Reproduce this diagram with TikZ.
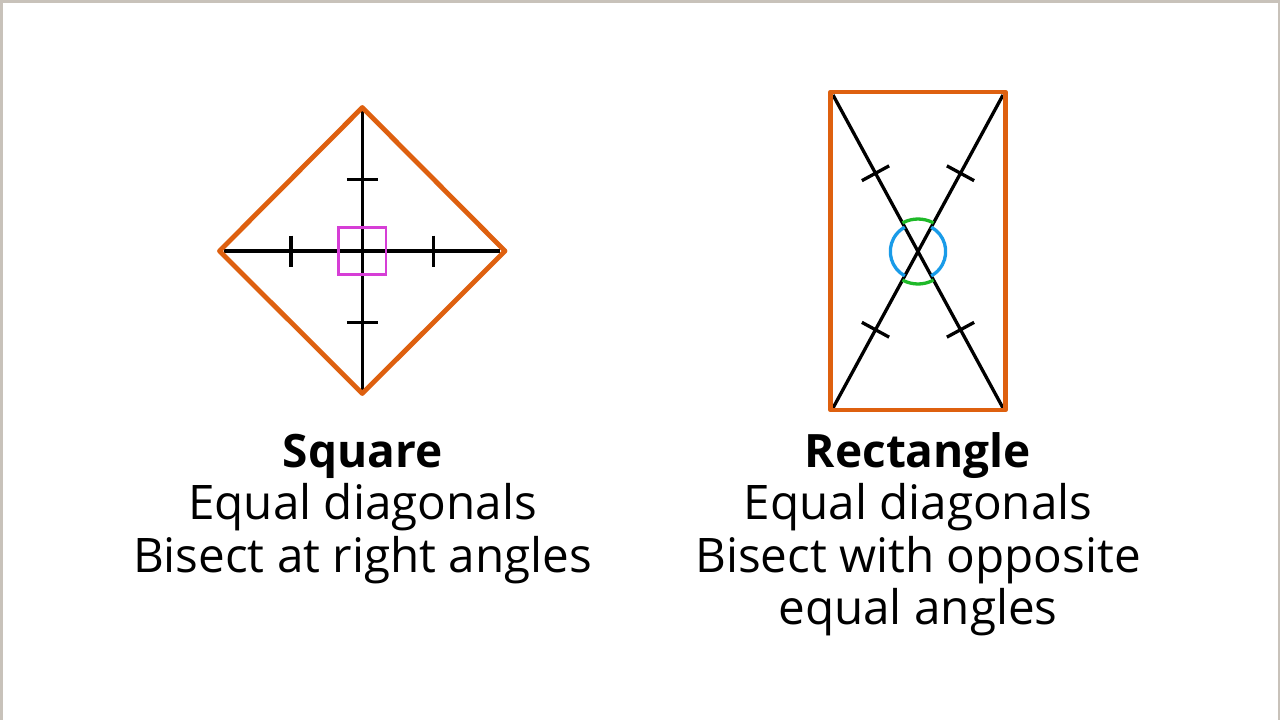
\documentclass[tikz,border=0pt]{standalone}
\usepackage{fontspec}
\setmainfont{Open Sans}
\usetikzlibrary{calc}
\definecolor{shapeorange}{RGB}{222,96,15}
\definecolor{rightmag}{RGB}{214,62,214}
\definecolor{anglegreen}{RGB}{30,185,40}
\definecolor{angleblue}{RGB}{25,155,232}
\definecolor{framegray}{RGB}{200,194,186}
\tikzset{
  outline/.style={draw=shapeorange, line width=4.8pt, line join=round},
  diag/.style={draw=black, line width=3.3pt},
  tickmark/.style={draw=black, line width=3.3pt},
  rightbox/.style={draw=rightmag, line width=2.8pt},
  greenarc/.style={draw=anglegreen, line width=3.3pt},
  bluearc/.style={draw=angleblue, line width=3.3pt},
  titletext/.style={anchor=base, inner sep=0pt, font=\fontsize{46}{52}\selectfont\bfseries},
  bodytext/.style={anchor=base, inner sep=0pt, font=\fontsize{47.6}{52}\selectfont},
}
\begin{document}
\begin{tikzpicture}[x=1pt,y=-1pt]
\useasboundingbox (0,0) rectangle (1280,720);
\fill[white] (0,0) rectangle (1280,720);
\draw[framegray, line width=2.5pt] (1.25,720) -- (1.25,1.25) -- (1278.75,1.25) -- (1278.75,720);

% ---------- Square ----------
\coordinate (sqT) at (362.3,107.5);
\coordinate (sqB) at (362.3,393.5);
\coordinate (sqL) at (219.5,251);
\coordinate (sqR) at (505,251);
\coordinate (sqO) at (362.3,251);
\coordinate (sqTi) at (362.3,109);
\coordinate (sqBi) at (362.3,391);
\coordinate (sqLi) at (224,251);
\coordinate (sqRi) at (500,251);

\draw[diag] (sqTi) -- (sqBi);
\draw[diag] (sqLi) -- (sqRi);
\draw[outline] (sqT) -- (sqR) -- (sqB) -- (sqL) -- cycle;

\coordinate (sqt1) at ($(sqT)!0.5!(sqO)$);
\coordinate (sqt2) at ($(sqB)!0.5!(sqO)$);
\coordinate (sqt3) at ($(sqL)!0.5!(sqO)$);
\coordinate (sqt4) at ($(sqR)!0.5!(sqO)$);
\draw[tickmark] ($(sqt1)+(-15.5,0)$) -- ($(sqt1)+(15.5,0)$);
\draw[tickmark] ($(sqt2)+(-15.5,0)$) -- ($(sqt2)+(15.5,0)$);
\draw[tickmark] ($(sqt3)+(0,-15.5)$) -- ($(sqt3)+(0,15.5)$);
\draw[tickmark] ($(sqt4)+(0,-15.5)$) -- ($(sqt4)+(0,15.5)$);

\draw[rightbox] ($(sqO)+(-23.7,-23.7)$) rectangle ($(sqO)+(23.7,23.7)$);

% ---------- Rectangle ----------
\coordinate (reTL) at (830.5,92);
\coordinate (reBR) at (1005.5,410);
\coordinate (dTL) at (833,95);
\coordinate (dTR) at (1003,95);
\coordinate (dBL) at (833,408);
\coordinate (dBR) at (1003,408);
\coordinate (reO) at (918,251.5);

\draw[diag] (dTL) -- (dBR);
\draw[diag] (dTR) -- (dBL);
\draw[outline] (reTL) rectangle (reBR);

\foreach \p/\q [count=\i] in {dTL/dBR, dTR/dBL, dBL/dTR, dBR/dTL}{
  \coordinate (rt\i) at ($(\p)!0.25!(\q)$);
  \draw[tickmark] ($(rt\i)!15.5pt!90:(\p)$) -- ($(rt\i)!15.5pt!-90:(\p)$);
}

\draw[greenarc] ([shift={(61.5:32.5)}]reO) arc[start angle=61.5, end angle=118.5, radius=32.5];
\draw[greenarc] ([shift={(241.5:32.5)}]reO) arc[start angle=241.5, end angle=298.5, radius=32.5];
\draw[bluearc] ([shift={(-61.5:27.7)}]reO) arc[start angle=-61.5, end angle=61.5, radius=27.7];
\draw[bluearc] ([shift={(118.5:27.7)}]reO) arc[start angle=118.5, end angle=241.5, radius=27.7];

% ---------- Texts ----------
\node[titletext] (sqtitle) at (362.5,467) {Square};
\node[bodytext] (sqline1) at (362.5,519) {Equal diagonals};
\node[bodytext] (sqline2) at (362.5,572) {Bisect at right angles};

\node[titletext] (retitle) at (918,467) {Rectangle};
\node[bodytext] (reline1) at (918,519) {Equal diagonals};
\node[bodytext] (reline2) at (918,572) {Bisect with opposite};
\node[bodytext] (reline3) at (918,624) {equal angles};
\end{tikzpicture}
\end{document}
